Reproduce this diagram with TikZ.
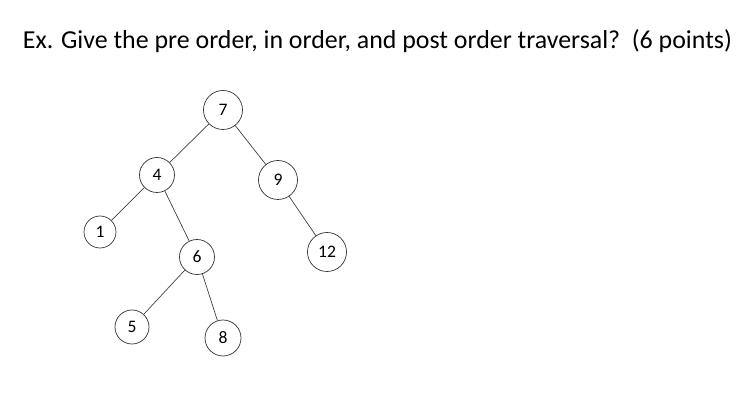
\documentclass[tikz,border=0pt]{standalone}
\usepackage{fontspec}
\setmainfont{Carlito}
\usetikzlibrary{positioning}

\begin{document}
\begin{tikzpicture}[x=0.03cm, y=-0.03cm,
    tree_node/.style ={circle, draw=black!80, line width=0.6pt, inner sep=0pt,
      font=\fontsize{15}{17}\selectfont},
    tree_edge/.style ={draw=black!75, line width=0.6pt}]
    \useasboundingbox (0,0) rectangle (742,402);
    \node[anchor=base west, inner sep=0pt, font=\fontsize{22.1}{26}\selectfont] (question) at (22.7,48.3)
      {Ex. Give the pre order, in order, and post order traversal?\ \ (6 points)};
    % the tree
    \node[tree_node, minimum size=1.17cm] (n7) at (223,110) {7};
    \node[tree_node, minimum size=1.05cm] (n4) at (157,175) {4};
    \node[tree_node, minimum size=1.17cm] (n9) at (278,180) {9};
    \node[tree_node, minimum size=0.96cm] (n1) at (100,232) {1};
    \node[tree_node, minimum size=1.05cm] (n6) at (197,257) {6};
    \node[tree_node, minimum size=1.17cm] (n12) at (327,252) {12};
    \node[tree_node, minimum size=1.02cm] (n5) at (132,327) {5};
    \node[tree_node, minimum size=1.08cm] (n8) at (223,338) {8};
    \path[tree_edge] (n7) -- (n4)
          (n7) -- (n9)
          (n4) -- (n1)
          (n4) -- (n6)
          (n9) -- (n12)
          (n6) -- (n5)
          (n6) -- (n8);
\end{tikzpicture}
\end{document}
